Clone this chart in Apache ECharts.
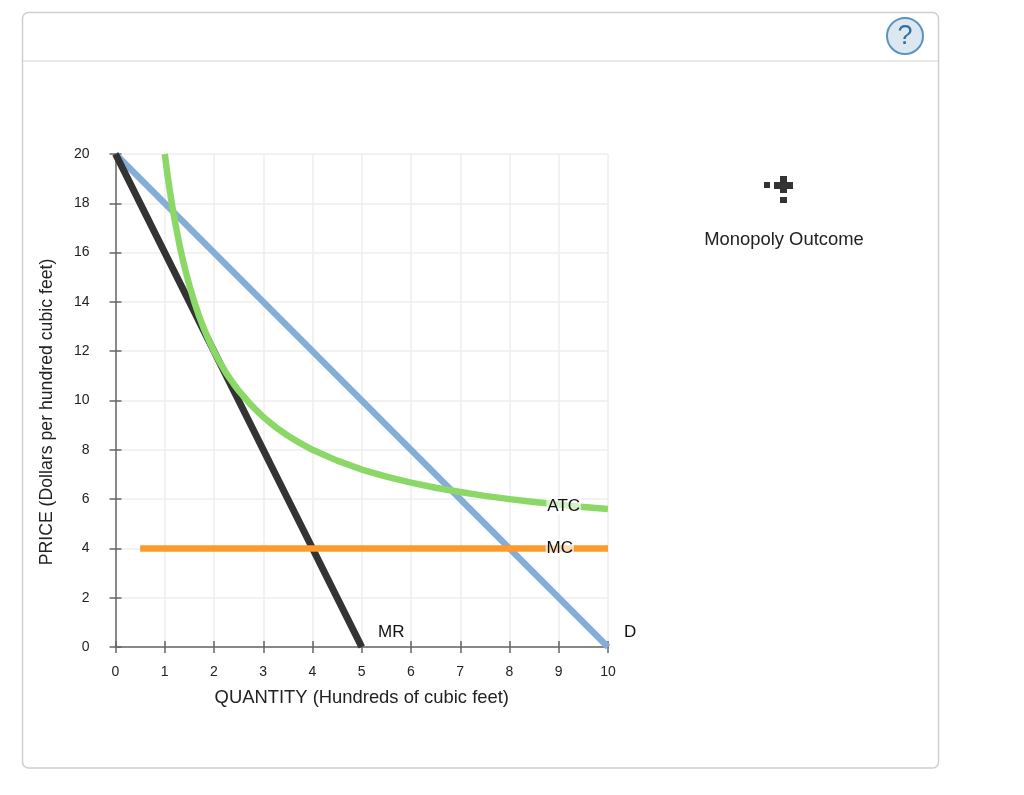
<!DOCTYPE html>
<html><head><meta charset="utf-8">
<style>html,body{margin:0;padding:0;background:#fff}#c{width:1024px;height:795px}</style>
<script src="https://cdn.jsdelivr.net/npm/echarts@6/dist/echarts.min.js"></script>
</head><body><div id="c"></div>
<script>
const xTicks = [0,1,2,3,4,5,6,7,8,9,10];
const yTicks = [0,2,4,6,8,10,12,14,16,18,20];
const demand = [[0,20],[10,0]];
const marginalRevenue = [[0,20],[5,0]];
const marginalCost = [[0.5,4],[10,4]];
const averageTotalCost = [[1,20],[1.05,19.24],[1.1,18.55],[1.15,17.91],[1.2,17.33],[1.3,16.3],[1.4,15.43],[1.5,14.67],[1.6,14],[1.7,13.41],[1.8,12.89],[1.9,12.42],[2,12],[2.1,11.62],[2.25,11.1],[2.4,10.67],[2.5,10.4],[2.75,9.82],[3,9.33],[3.25,8.92],[3.5,8.57],[3.75,8.27],[4,8],[4.5,7.56],[5,7.2],[5.5,6.91],[6,6.67],[6.5,6.46],[7,6.29],[7.5,6.13],[8,6],[8.5,5.88],[9,5.78],[9.5,5.68],[10,5.6]];
const curveLabels = [["ATC",9.1,5.7],["MC",9.02,4],["MR",5.6,0.6],["D",10.45,0.6]];
const xTitle = "QUANTITY (Hundreds of cubic feet)";
const yTitle = "PRICE (Dollars per hundred cubic feet)";
const sideLabel = "Monopoly Outcome";

const FONT = '"Liberation Sans", Arial, sans-serif';
const lineSeries = (data, color, z, width) => ({type:'line', data, z, showSymbol:false, symbol:'none', clip:true,
  lineStyle:{color, width, cap:'butt', join:'round'}, silent:true});
const icon = (x,y,width,height) => ({type:'rect', shape:{x,y,width,height}, style:{fill:'#333'}});
const chart = echarts.init(document.getElementById('c'), null, {renderer:'canvas'});
chart.setOption({
  animation:false,
  backgroundColor:'#fff',
  textStyle:{fontFamily:FONT},
  grid:{left:115.5, right:416, top:154, bottom:148, containLabel:false},
  xAxis:[{
    type:'value', min:0, max:10, interval:1, position:'bottom',
    name:xTitle, nameLocation:'middle', nameGap:42,
    nameTextStyle:{fontFamily:FONT, fontSize:18.4, color:'#222'},
    axisLine:{onZero:false, lineStyle:{color:'#666', width:1.5}},
    axisTick:{show:true, inside:false, length:6, lineStyle:{color:'#666', width:1.5}},
    axisLabel:{fontFamily:FONT, fontSize:14, color:'#222', margin:18, showMinLabel:true, showMaxLabel:true},
    splitLine:{show:true, lineStyle:{color:'#eeeeee', width:1.5}}
  },{
    type:'value', min:0, max:10, interval:1, position:'bottom',
    axisLine:{show:false}, axisLabel:{show:false}, splitLine:{show:false},
    axisTick:{show:true, inside:true, length:6, lineStyle:{color:'#666', width:1.5}}
  }],
  yAxis:[{
    type:'value', min:0, max:20, interval:2, position:'left',
    name:yTitle, nameLocation:'middle', nameGap:59, nameRotate:90,
    nameTextStyle:{fontFamily:FONT, fontSize:17.7, color:'#222', padding:[0,23,0,0]},
    axisLine:{onZero:false, lineStyle:{color:'#666', width:1.5}},
    axisTick:{show:true, inside:false, length:6, lineStyle:{color:'#666', width:1.5}},
    axisLabel:{fontFamily:FONT, fontSize:14, color:'#222', margin:26, showMinLabel:true, showMaxLabel:true},
    splitLine:{show:true, lineStyle:{color:'#eeeeee', width:1.5}}
  },{
    type:'value', min:0, max:20, interval:2, position:'left',
    axisLine:{show:false}, axisLabel:{show:false}, splitLine:{show:false},
    axisTick:{show:true, inside:true, length:6, lineStyle:{color:'#666', width:1.5}}
  }],
  series:[
    lineSeries(demand,'#85add5',3,6.5),
    lineSeries(marginalRevenue,'#333333',4,7),
    lineSeries(averageTotalCost,'#8bd867',5,6.5),
    lineSeries(marginalCost,'#fc9a2b',6,6.5),
    {type:'scatter', z:10, clip:false, symbolSize:0, silent:true,
     data:curveLabels.map(l=>({value:[l[1],l[2]], name:l[0]})),
     label:{show:true, position:'inside', formatter:p=>p.name, fontFamily:FONT, fontSize:17, color:'#111', opacity:1,
       backgroundColor:'rgba(255,255,255,0.65)', padding:[0,1]}}
  ],
  graphic:[
    {type:'rect', z:-10, shape:{x:22.5,y:12.5,width:916,height:755.5,r:6}, style:{fill:'#fff',stroke:'#cfcfcf',lineWidth:1.5}},
    {type:'line', z:-9, shape:{x1:23,y1:61,x2:938,y2:61}, style:{stroke:'#e0e0e0',lineWidth:1.5}},
    {type:'circle', shape:{cx:905,cy:36,r:18}, style:{fill:'#dde7f0',stroke:'#5b94c2',lineWidth:2}},
    {type:'text', style:{x:905,y:37,text:'?',fill:'#2f6fa6',font:'27px '+FONT,align:'center',verticalAlign:'middle'}},
    icon(774,182,19,7), icon(780,176,7,17), icon(780,197,7,6), icon(764,182,6,6),
    {type:'text', style:{x:784,y:240,text:sideLabel,fill:'#222',font:'18.4px '+FONT,align:'center',verticalAlign:'middle'}}
  ]
});
</script></body></html>
